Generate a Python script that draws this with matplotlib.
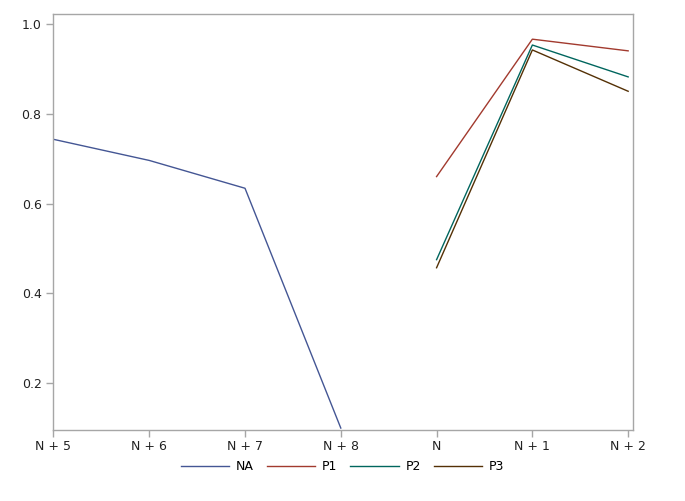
import numpy as np
import matplotlib
matplotlib.use("Agg")
from matplotlib import pyplot as plt

# categories along the x axis
categories = ["N + 5", "N + 6", "N + 7", "N + 8", "N", "N + 1", "N + 2"]
# series values
na_idx = [0, 1, 2, 3]
na_vals = [0.743, 0.696, 0.634, 0.10]
p_idx = [4, 5, 6]
p1_vals = [0.660, 0.966, 0.940]
p2_vals = [0.475, 0.953, 0.882]
p3_vals = [0.457, 0.942, 0.850]
y_ticks = [0.2, 0.4, 0.6, 0.8, 1.0]

fig = plt.figure(figsize=(6.85, 5.01), dpi=100)
ax = fig.add_axes([0.078, 0.142, 0.846, 0.83])

ax.plot(na_idx, na_vals, color="#445694", lw=1.0, label="NA")
ax.plot(p_idx, p1_vals, color="#A23A2E", lw=1.0, label="P1")
ax.plot(p_idx, p2_vals, color="#01665E", lw=1.0, label="P2")
ax.plot(p_idx, p3_vals, color="#543005", lw=1.0, label="P3")

ax.set_xlim(0, 6.05)
ax.set_ylim(0.096, 1.022)
ax.set_xticks(range(len(categories)))
ax.set_xticklabels(categories)
ax.set_yticks(y_ticks)
ax.set_yticklabels([f"{v:.1f}" for v in y_ticks])

for s in ax.spines.values():
    s.set_color("#a6a6a6")
    s.set_linewidth(1.0)
ax.tick_params(colors="#a6a6a6", labelcolor="#222222", labelsize=9, length=5, width=1)
ax.tick_params(axis="x", pad=2)

fig.legend(loc="center", bbox_to_anchor=(0.5, 0.068), ncol=4, frameon=False,
           fontsize=9, handlelength=3.9, columnspacing=1.0, handletextpad=0.55)

fig.savefig("out.png", dpi=100)
